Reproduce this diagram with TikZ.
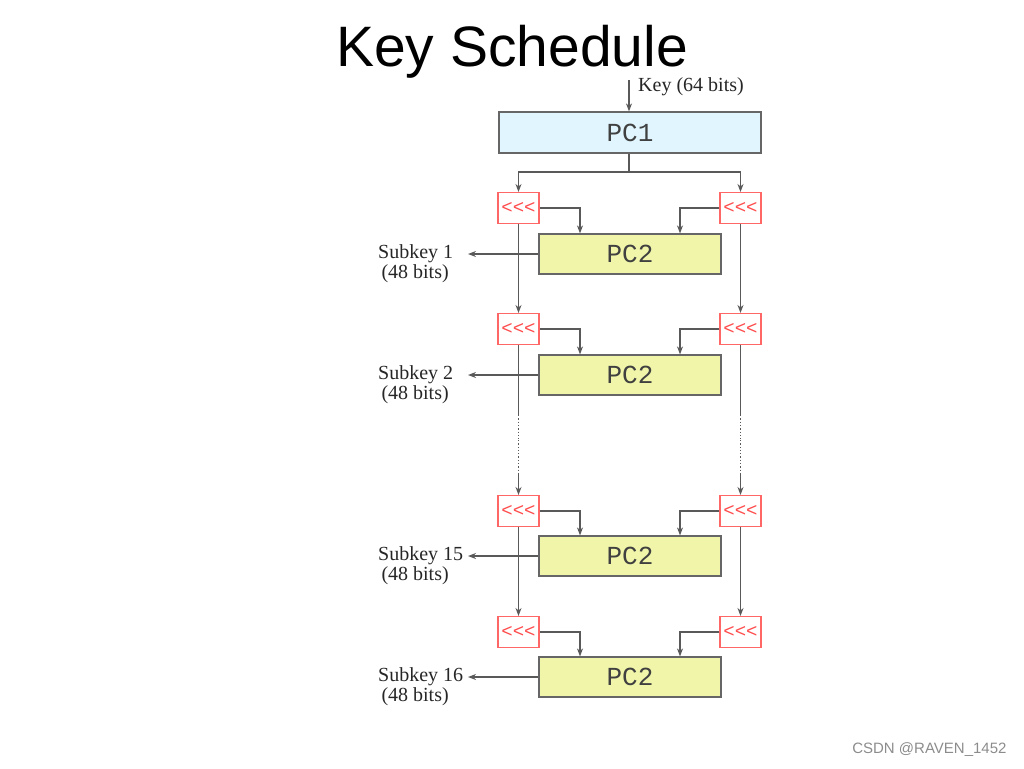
\documentclass[tikz,border=0pt]{standalone}
\usetikzlibrary{arrows.meta,calc}
\usepackage{fontspec}
\setmainfont{Liberation Serif}
\newfontfamily\titlefont{Liberation Sans}
\newfontfamily\monofont{Liberation Mono}
\begin{document}
\begin{tikzpicture}[x=1pt,y=-1pt,
  ln/.style={draw=black!65,line width=1.3pt},
  arr/.style={ln,-{Stealth[length=8pt,width=6pt]}},
  rot/.style={draw=red!60,fill=white,line width=1.1pt,minimum width=41pt,minimum height=31pt,inner sep=0pt,font=\monofont\fontsize{19}{19}\selectfont,text=red!70},
  pcone/.style={draw=black!60,fill=cyan!12,line width=1.2pt,minimum width=262pt,minimum height=41pt,inner sep=0pt,font=\monofont\fontsize{26}{26}\selectfont,text=black!75},
  pctwo/.style={draw=black!60,fill={rgb,255:red,240;green,245;blue,170},line width=1.2pt,minimum width=182pt,minimum height=40pt,inner sep=0pt,font=\monofont\fontsize{26}{26}\selectfont,text=black!75},
  lab/.style={align=left,font=\fontsize{20}{20}\selectfont,text=black!85,inner sep=0pt}]
\useasboundingbox (0,0) rectangle (1024,768);
\node[font=\titlefont\fontsize{57}{57}\selectfont] (title) at (512,52) {Key Schedule};
\coordinate (kin) at (629,80);
\node[pcone] (pc1) at (630,132.5) {PC1};
\draw[arr] (kin) -- (pc1.north -| kin);
\node[lab,anchor=west] (klab) at (638,87) {Key (64 bits)};
\coordinate (split) at (629,172);
\foreach \i/\by/\py/\name in {1/208/254/1,2/329/375/2,3/511/556/15,4/632/677/16}{
  \node[rot] (L\i) at (518.5,\by) {<<<};
  \node[rot] (R\i) at (740.5,\by) {<<<};
  \node[pctwo] (P\i) at (630,\py) {PC2};
  \draw[arr] (L\i.east) -| (P\i.north -| 580,0);
  \draw[arr] (R\i.west) -| (P\i.north -| 680,0);
  \coordinate (s\i) at (468,\py);
  \draw[arr] (P\i.west) -- (s\i);
  \node[lab,anchor=west] (t\i) at (378,\py+10) {Subkey \name\\\,(48 bits)};
}
\draw[ln] (pc1.south -| split) -- (split);
\draw[arr] (split) -| (L1.north);
\draw[arr] (split) -| (R1.north);
\draw[arr] (L1.south) -- (L2.north);
\draw[arr] (R1.south) -- (R2.north);
\draw[arr] (L3.south) -- (L4.north);
\draw[arr] (R3.south) -- (R4.north);
\foreach \s in {L,R}{
  \coordinate (\s a) at ($(\s2.south)+(0,70)$);
  \coordinate (\s b) at ($(\s2.south)+(0,95)$);
  \coordinate (\s c) at ($(\s3.north)+(0,-55)$);
  \coordinate (\s d) at ($(\s3.north)+(0,-22)$);
  \draw[ln] (\s2.south) -- (\s a);
  \draw[ln,dotted] (\s a) -- (\s b);
  \draw[ln,dotted] (\s c) -- (\s d);
  \draw[arr] (\s d) -- (\s3.north);
}
\node[text=black!45,font=\titlefont\fontsize{15}{15}\selectfont,anchor=east] (wm) at (1010,750) {CSDN @RAVEN\_1452};
\end{tikzpicture}
\end{document}
